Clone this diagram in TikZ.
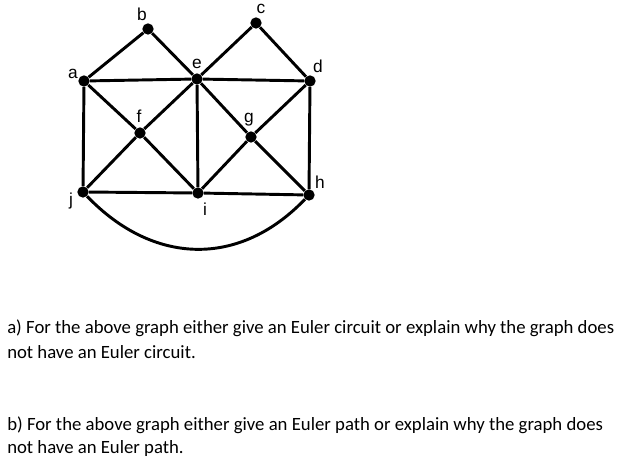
\documentclass[tikz,border=0pt]{standalone}
\usepackage{fontspec}
\setmainfont{Carlito}
\newfontfamily\labelfont{Liberation Sans}
\tikzset{
  vertex/.style={circle, fill=black, inner sep=0pt, minimum size=8.5},
  edge/.style={line width=2.2pt},
  vlabel/.style={font=\labelfont\fontsize{13}{15}\selectfont, inner sep=0pt},
  question/.style={anchor=west, inner sep=0pt, font=\fontsize{14.05}{16}\selectfont}
}
\begin{document}
\begin{tikzpicture}[x=0.75pt, y=-0.75pt]
  \useasboundingbox (0,0) rectangle (619,463);

  % vertices
  \node[vertex] (a) at (84,81) {};
  \node[vertex] (b) at (148,29) {};
  \node[vertex] (c) at (256,23) {};
  \node[vertex] (d) at (310,81) {};
  \node[vertex] (e) at (197,79) {};
  \node[vertex] (f) at (140,133) {};
  \node[vertex] (g) at (251,137) {};
  \node[vertex] (h) at (309,195) {};
  \node[vertex] (i) at (198,193) {};
  \node[vertex] (j) at (83,192) {};

  % labels
  \node[vlabel] (la) at (73,74) {a};
  \node[vlabel] (lb) at (142,14) {b};
  \node[vlabel] (lc) at (261,9) {c};
  \node[vlabel] (ld) at (318,66) {d};
  \node[vlabel] (le) at (197,64) {e};
  \node[vlabel] (lf) at (139,116) {f};
  \node[vlabel] (lg) at (249,120) {g};
  \node[vlabel] (lh) at (320,182) {h};
  \node[vlabel] (li) at (205,209) {i};
  \node[vlabel] (lj) at (71,201) {j};

  \foreach \u/\v in {a/b,b/e,e/c,c/d,a/e,e/d,a/j,a/f,f/i,e/f,f/j,e/i,e/g,g/h,d/g,g/i,d/h,j/i,i/h}{
    \draw[edge] (\u) -- (\v);
  }
  \draw[edge] (j) .. controls +(70,73) and +(-70,73) .. (h);

  \node[question] (qa1) at (7,328) {a) For the above graph either give an Euler circuit or explain why the graph does};
  \node[question] (qa2) at (7,352) {not have an Euler circuit.};
  \node[question] (qb1) at (7,425) {b) For the above graph either give an Euler path or explain why the graph does};
  \node[question] (qb2) at (7,449) {not have an Euler path.};
\end{tikzpicture}
\end{document}
